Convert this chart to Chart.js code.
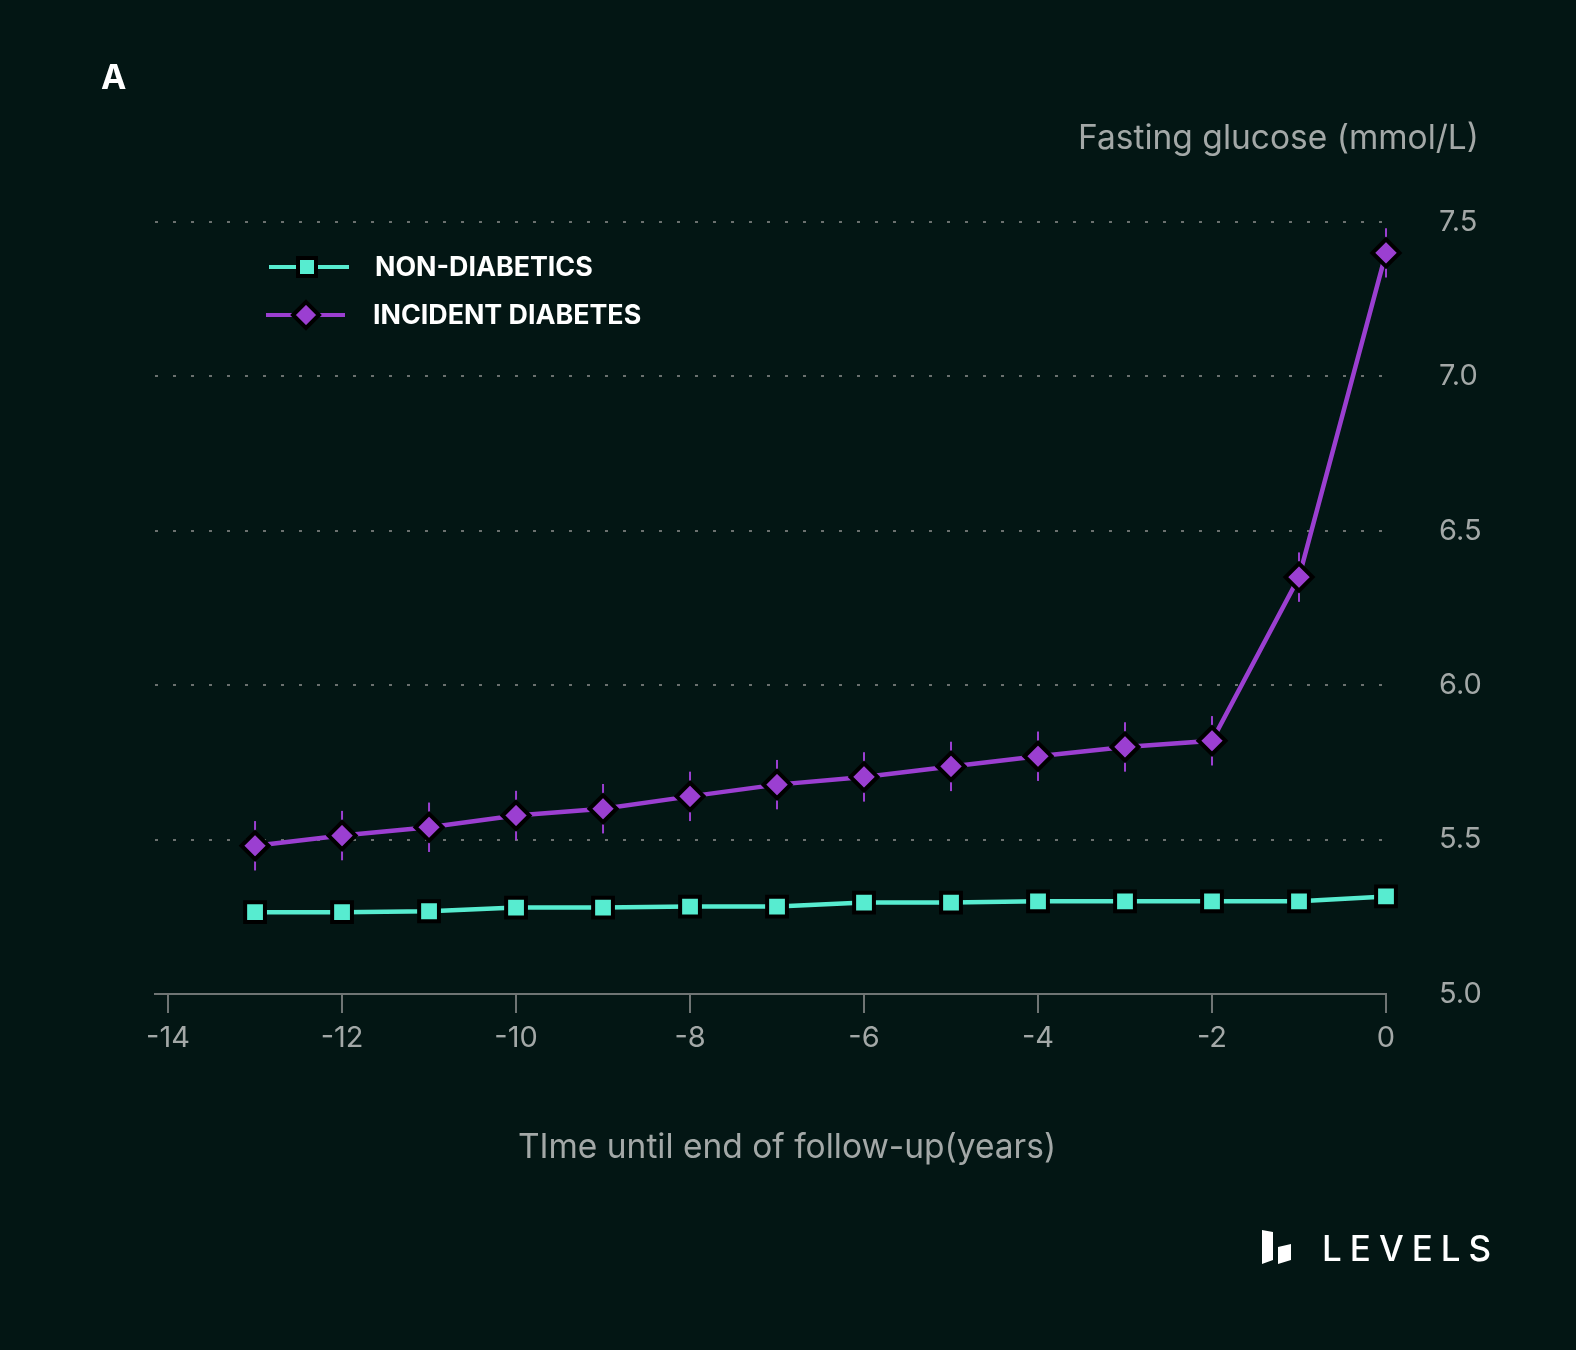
<!DOCTYPE html>
<html>
<head>
<meta charset="utf-8">
<script src="https://cdn.jsdelivr.net/npm/chart.js@4/dist/chart.umd.min.js"></script>
<style>
  html, body { margin: 0; padding: 0; background: #031614; }
  #wrap { position: relative; width: 1576px; height: 1350px; font-family: Inter, "Noto Sans", sans-serif; }
  .txt { position: absolute; white-space: nowrap; line-height: 1; }
  #panel { left: 101px; top: 60px; font-size: 34px; font-weight: 700; color: #ffffff; }
  #ytitle { right: 97px; top: 121px; font-size: 33.5px; color: #a3a8a7; }
  #xtitle { left: -1px; width: 1576px; text-align: center; top: 1130px; font-size: 33.5px; color: #a3a8a7; }
  #logo { left: 1262px; top: 1230px; display: flex; align-items: center; }
  #logo span { font-size: 35px; font-weight: 500; color: #ffffff; letter-spacing: 8px; margin-left: 30px; }
</style>
</head>
<body>
<div id="wrap">
  <canvas id="glucoseChart"></canvas>
  <div class="txt" id="panel">A</div>
  <div class="txt" id="ytitle">Fasting glucose (mmol/L)</div>
  <div class="txt" id="xtitle">TIme until end of follow-up(years)</div>
  <div class="txt" id="logo">
    <svg width="30" height="36" viewBox="0 0 30 36">
      <polygon points="0,0 11,2 11,30 0,34" fill="#ffffff"/>
      <polygon points="16,17 29,14 29,30 16,34" fill="#ffffff"/>
    </svg>
    <span>LEVELS</span>
  </div>
</div>
<script>
// years until end of follow-up
let years = [-13, -12, -11, -10, -9, -8, -7, -6, -5, -4, -3, -2, -1, 0];
let nonDiabetics = [5.265, 5.265, 5.268, 5.28, 5.28, 5.283, 5.283, 5.296, 5.296, 5.3, 5.3, 5.3, 5.3, 5.316];
let incidentDiabetes = [5.48, 5.513, 5.54, 5.578, 5.6, 5.64, 5.678, 5.703, 5.737, 5.77, 5.8, 5.82, 6.35, 7.4];
let incidentErr = [0.08, 0.08, 0.08, 0.08, 0.08, 0.08, 0.08, 0.08, 0.08, 0.08, 0.08, 0.08, 0.08, 0.08];
let xTicks = [-14, -12, -10, -8, -6, -4, -2, 0];
let legendLabels = ["NON-DIABETICS", "INCIDENT DIABETES"];

const teal = "#57ecd0";
const purple = "#9b3fd1";
const gray = "#a3a8a7";

// vertical error bars, drawn behind the markers
const errorBars = {
    id: "errorBars",
    beforeDatasetsDraw(chart) {
        const { ctx, scales } = chart;
        ctx.save();
        ctx.strokeStyle = purple;
        ctx.lineWidth = 2;
        incidentDiabetes.forEach((v, i) => {
            const x = scales.x.getPixelForValue(years[i]);
            ctx.beginPath();
            ctx.moveTo(x, scales.y.getPixelForValue(v - incidentErr[i]));
            ctx.lineTo(x, scales.y.getPixelForValue(v + incidentErr[i]));
            ctx.stroke();
        });
        ctx.restore();
    },
};

// legend with line + marker sample
const lineLegend = {
    id: "lineLegend",
    afterDraw(chart) {
        const ctx = chart.ctx;
        const rows = [
            { y: 267, x0: 269, x1: 349, mx: 307, tx: 375 },
            { y: 315, x0: 266, x1: 345, mx: 306, tx: 373 },
        ];
        chart.data.datasets.forEach((ds, i) => {
            const r = rows[i];
            ctx.save();
            ctx.strokeStyle = ds.borderColor;
            ctx.lineWidth = 4;
            ctx.beginPath();
            ctx.moveTo(r.x0, r.y);
            ctx.lineTo(r.x1, r.y);
            ctx.stroke();
            ctx.fillStyle = ds.backgroundColor;
            ctx.strokeStyle = "#000000";
            ctx.lineWidth = 4;
            ctx.beginPath();
            if (ds.pointStyle === "rect") {
                ctx.rect(r.mx - 9, r.y - 9, 18, 18);
            } else {
                ctx.moveTo(r.mx - 13, r.y);
                ctx.lineTo(r.mx, r.y - 13);
                ctx.lineTo(r.mx + 13, r.y);
                ctx.lineTo(r.mx, r.y + 13);
                ctx.closePath();
            }
            ctx.fill();
            ctx.stroke();
            ctx.fillStyle = "#ffffff";
            ctx.font = "700 26.8px Inter";
            ctx.textBaseline = "middle";
            ctx.fillText(ds.label, r.tx, r.y + 1);
            ctx.restore();
        });
    },
};

let glucoseCtx = document.getElementById("glucoseChart").getContext("2d");
let glucoseChart = new Chart(glucoseCtx, {
    type: "line",
    data: {
        datasets: [
            {
                label: legendLabels[0],
                data: years.map((x, i) => ({ x: x, y: nonDiabetics[i] })),
                borderColor: teal,
                backgroundColor: teal,
                borderWidth: 4.5,
                clip: false,
                pointStyle: "rect",
                pointRadius: 14,
                pointBorderColor: "#000000",
                pointBorderWidth: 4,
                pointHoverRadius: 14,
            },
            {
                label: legendLabels[1],
                data: years.map((x, i) => ({ x: x, y: incidentDiabetes[i] })),
                borderColor: purple,
                backgroundColor: purple,
                borderWidth: 4.5,
                clip: false,
                pointStyle: "rectRot",
                pointRadius: 13.5,
                pointBorderColor: "#000000",
                pointBorderWidth: 4,
                pointHoverRadius: 13.5,
            },
        ],
    },
    options: {
        responsive: true,
        maintainAspectRatio: false,
        animation: false,
        layout: { padding: { left: 155, top: 222, right: 0, bottom: 0 } },
        plugins: {
            legend: { display: false },
            tooltip: { enabled: false },
        },
        scales: {
            x: {
                type: "linear",
                min: -14.15,
                max: 0,
                afterBuildTicks: (s) => { s.ticks = xTicks.map((v) => ({ value: v })); },
                afterFit: (s) => { s.height = 356; },
                border: { color: "#6f7574", width: 2 },
                grid: { drawOnChartArea: false, color: "#6f7574", lineWidth: 2, tickLength: 19 },
                ticks: { color: gray, padding: 8, font: { family: "Inter", size: 29 }, maxRotation: 0 },
            },
            y: {
                position: "right",
                min: 5.0,
                max: 7.5,
                afterFit: (s) => { s.width = 190; },
                border: { display: false, dash: [3, 15] },
                grid: { color: "#6b716f", lineWidth: 2, drawTicks: false },
                ticks: {
                    stepSize: 0.5,
                    color: gray,
                    padding: 53,
                    font: { family: "Inter", size: 29 },
                    callback: (v) => v.toFixed(1),
                },
            },
        },
    },
    plugins: [errorBars, lineLegend],
});
</script>
</body>
</html>
